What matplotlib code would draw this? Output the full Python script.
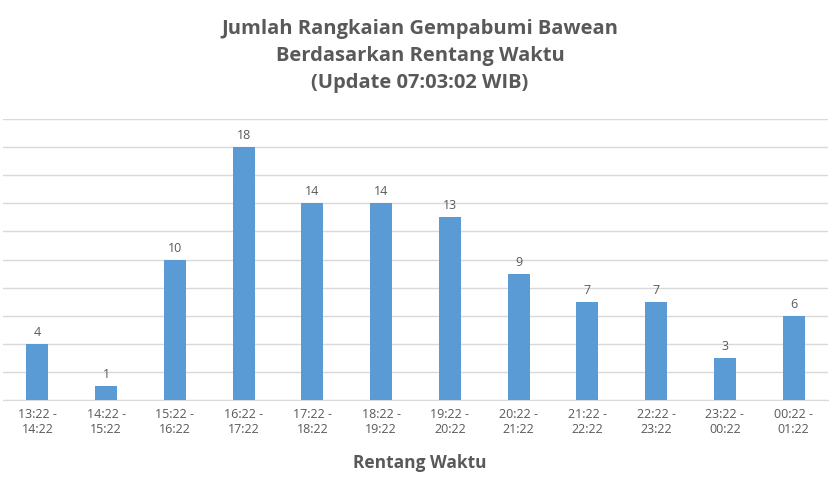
import matplotlib
matplotlib.use("Agg")
import matplotlib.pyplot as plt

categories = ["13:22 -\n14:22", "14:22 -\n15:22", "15:22 -\n16:22", "16:22 -\n17:22",
              "17:22 -\n18:22", "18:22 -\n19:22", "19:22 -\n20:22", "20:22 -\n21:22",
              "21:22 -\n22:22", "22:22 -\n23:22", "23:22 -\n00:22", "00:22 -\n01:22"]
values = [4, 1, 10, 18, 14, 14, 13, 9, 7, 7, 3, 6]
title = "Jumlah Rangkaian Gempabumi Bawean\nBerdasarkan Rentang Waktu\n(Update 07:03:02 WIB)"

plt.rcParams['font.family'] = ['Open Sans', 'DejaVu Sans']
gray = "#595959"
fig = plt.figure(figsize=(8.4, 4.93), dpi=100)
ax = fig.add_axes([3/840, 1-400/493, 825/840, 281/493])
x = range(len(values))
bars = ax.bar(x, values, width=0.32, color="#5B9BD5", zorder=3)
for xi, v in zip(x, values):
    ax.text(xi, v + 0.35, str(v), ha="center", va="bottom", fontsize=9, color=gray)
ax.set_xlim(-0.5, len(values) - 0.5)
ax.set_ylim(0, 20)
ax.set_yticks(range(0, 21, 2))
ax.yaxis.grid(True, color="#D9D9D9", linewidth=1, zorder=0)
ax.tick_params(axis="y", left=False, labelleft=False)
ax.tick_params(axis="x", length=0, colors=gray, labelsize=9, pad=6)
ax.set_xticks(list(x))
ax.set_xticklabels(categories)
for s in ["top", "right", "left"]:
    ax.spines[s].set_visible(False)
ax.spines["bottom"].set_color("#D9D9D9")
fig.text(0.5, 1 - 463/493, "Rentang Waktu", ha="center", va="center",
         fontsize=12.5, fontweight="bold", color=gray)
fig.text(0.5, 1 - 56/493, title, ha="center", va="center", fontsize=14.5,
         fontweight="bold", color=gray, linespacing=1.45)
fig.savefig("out.png", dpi=100)
